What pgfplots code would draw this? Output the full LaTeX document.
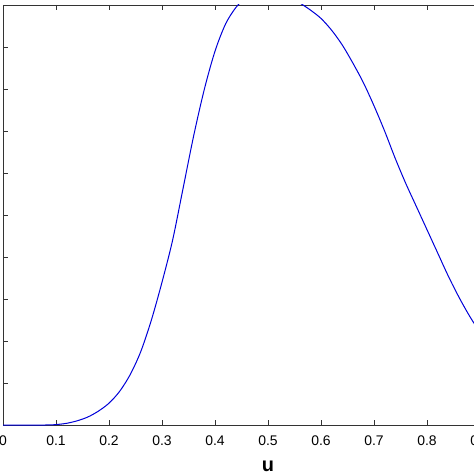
\documentclass[border=0pt]{standalone}
\usepackage{pgfplots}
\pgfplotsset{compat=1.18}
\usepackage{fontspec}
\setmainfont{Liberation Sans}

\begin{document}
\begin{tikzpicture}
  \begin{axis}[
    name=ax,
    scale only axis,
    width=530bp, height=420bp,
    xmin=0, xmax=1, ymin=0, ymax=1,
    xtick={0,0.1,...,1},
    ytick={0,0.1,...,1},
    yticklabels={},
    xticklabels={0,0.1,0.2,0.3,0.4,0.5,0.6,0.7,0.8,0.9,1},
    tick align=inside,
    major tick length=5bp,
    axis line style={black!80, line width=0.9bp},
    every tick/.style={black!80, line width=0.9bp},
    xticklabel style={font=\fontsize{14}{14}\selectfont, anchor=base, yshift=-20bp},
    xlabel={\textbf{u}},
    xlabel style={font=\fontsize{20}{20}\selectfont, at={(axis description cs:0.5,0)}, anchor=base, yshift=-46bp},
  ]
    \addplot[blue!85!black, line width=1bp, smooth, tension=0.5] coordinates {
      (0,0) (0.08,0) (0.10,0.001) (0.12,0.004) (0.14,0.010) (0.16,0.019)
      (0.18,0.033) (0.20,0.052) (0.22,0.080) (0.24,0.120) (0.26,0.175)
      (0.28,0.250) (0.30,0.340) (0.32,0.440) (0.34,0.565) (0.36,0.690)
      (0.38,0.800) (0.40,0.890) (0.42,0.955) (0.44,0.995) (0.46,1.020)
      (0.48,1.035) (0.50,1.040) (0.52,1.035) (0.54,1.022) (0.56,1.005)
      (0.58,0.988) (0.60,0.968) (0.62,0.940) (0.64,0.905) (0.66,0.862)
      (0.68,0.815) (0.70,0.760) (0.72,0.700) (0.74,0.635) (0.76,0.575)
      (0.78,0.520) (0.80,0.465) (0.82,0.410) (0.84,0.355) (0.86,0.305)
      (0.88,0.260) (0.90,0.220)
    };
  \end{axis}
  \pgfresetboundingbox
  \path[use as bounding box] ([xshift=-3bp,yshift=-49bp]ax.south west) rectangle ([xshift=-59bp,yshift=5bp]ax.north east);
\end{tikzpicture}
\end{document}
